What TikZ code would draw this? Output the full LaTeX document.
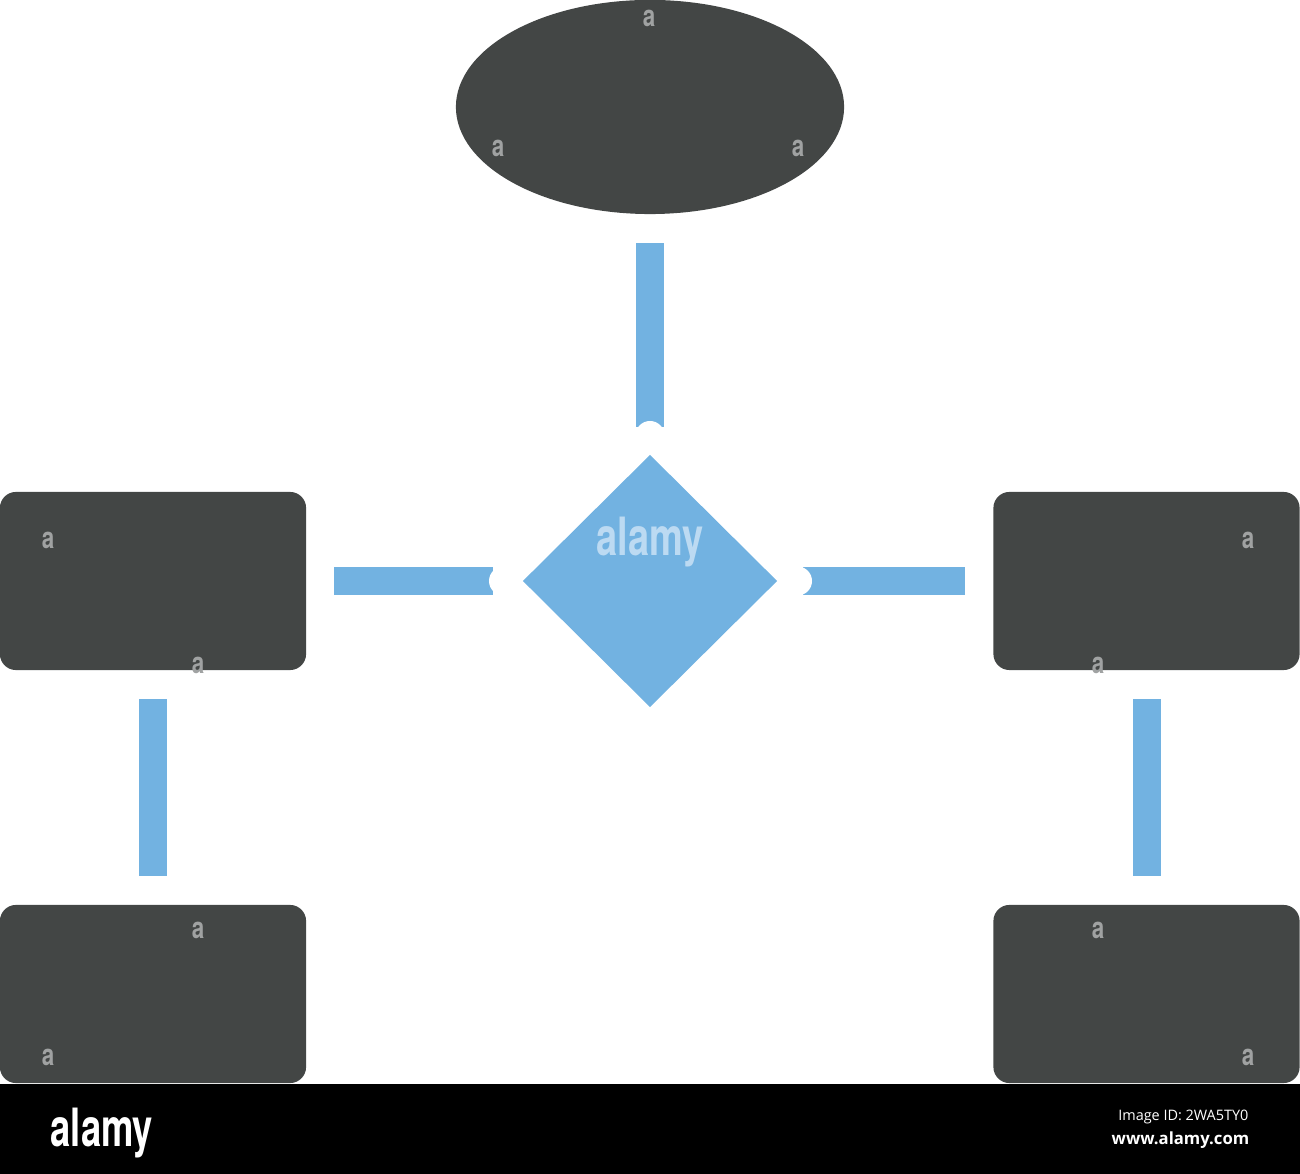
\documentclass[tikz,border=0pt]{standalone}
\usepackage{fontspec}
\setmainfont{TeX Gyre Heros}
\newfontfamily\osans{Open Sans}
\usetikzlibrary{shapes.geometric}
\definecolor{dk}{HTML}{434645}
\definecolor{bl}{HTML}{72B2E1}
\definecolor{wmb}{HTML}{BCDAF2}
\definecolor{wmg}{HTML}{A0A2A2}
\tikzset{
 shp/.style={fill=dk, draw=none, inner sep=0pt, outer sep=0pt},
 box/.style={shp, rectangle, rounded corners=0.16cm, minimum width=3.06cm, minimum height=1.78cm},
 conn/.style={draw=bl, line width=0.28cm, line cap=butt},
 notch/.style={circle, fill=white, draw=none, inner sep=0pt, minimum size=0.29cm},
 wma/.style={text=wmg, font=\bfseries\fontsize{8.5}{8.5}\selectfont, inner sep=0pt},
}
\begin{document}
\begin{tikzpicture}[x=0.01cm,y=-0.01cm]
\useasboundingbox (0,0) rectangle (1300,1174);
% shapes
\node[shp, ellipse, minimum width=3.88cm, minimum height=2.14cm] (start) at (650,107) {};
\node[shape=diamond, fill=bl, draw=none, inner sep=0pt, outer sep=0pt, minimum width=2.54cm, minimum height=2.52cm] (dec) at (650,581) {};
\node[box] (L1) at (153,581) {};
\node[box] (R1) at (1146.5,581) {};
\node[box] (L2) at (153,994) {};
\node[box] (R2) at (1146.5,994) {};
% connectors
\draw[conn, shorten <=0.29cm, shorten >=0.28cm] (start.south) -- (dec.north);
\draw[conn, shorten <=0.28cm, shorten >=0.30cm] (L1.east) -- (dec.west);
\draw[conn, shorten <=0.26cm, shorten >=0.28cm] (dec.east) -- (R1.west);
\draw[conn, shorten <=0.29cm, shorten >=0.29cm] (L1.south) -- (L2.north);
\draw[conn, shorten <=0.29cm, shorten >=0.29cm] (R1.south) -- (R2.north);
% notches
\node[notch] (n1) at (650,435.5) {};
\node[notch] (n2) at (503.5,581) {};
\node[notch] (n3) at (797.5,581) {};
% watermark on diamond
\node[text=wmb, font=\bfseries\fontsize{15}{15}\selectfont, inner sep=0pt, anchor=base] (wm) at (650,556) {\scalebox{0.72}[1]{alamy}};
% small watermark marks
\foreach \p/\q [count=\i] in {649/18, 498/148, 798/148, 48/540, 1248/540, 198/665, 1098/665, 198/930, 1098/930, 48/1057, 1248/1057}
  \node[wma] (a\i) at (\p,\q) {\scalebox{0.75}[1]{a}};
% bottom bar
\node[fill=black, draw=none, minimum width=13cm, minimum height=0.9cm, inner sep=0pt, outer sep=0pt, anchor=north west] (bar) at (0,1084) {};
\node[text=white, font=\bfseries\fontsize{15}{15}\selectfont, inner sep=0pt, anchor=base west] (logo) at (50,1147) {\scalebox{0.69}[1]{alamy}};
\node[text=white, font=\osans\fontsize{4.1}{4.1}\selectfont, inner sep=0pt, anchor=base east] (imgid) at (1249,1121) {Image ID: 2WA5TY0};
\node[text=white, font=\osans\bfseries\fontsize{4.75}{4.75}\selectfont, inner sep=0pt, anchor=base east] (url) at (1250,1145) {www.alamy.com};
\end{tikzpicture}
\end{document}
